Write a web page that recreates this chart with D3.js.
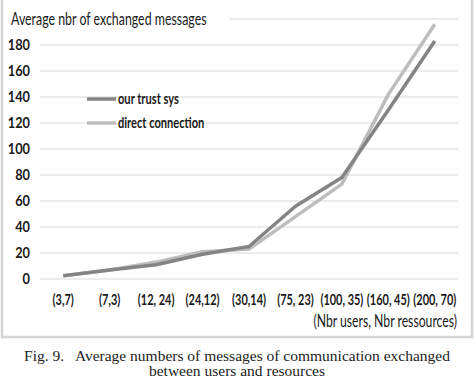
<!DOCTYPE html>
<html>
<head>
<meta charset="utf-8">
<script src="https://cdn.jsdelivr.net/npm/d3@7"></script>
<style>
  body { margin: 0; background: #fff; }
  svg { display: block; }
</style>
</head>
<body>
<svg id="chart" width="474" height="377"></svg>
<script>
// Data
const categories = ["(3,7)", "(7,3)", "(12, 24)", "(24,12)", "(30,14)", "(75, 23)", "(100, 35)", "(160, 45)", "(200, 70)"]
const trustSys = [2.5, 7, 11, 19, 25, 56, 78, 130, 183]
const directConn = [2.5, 7, 13, 21, 23, 48, 73, 142, 196]
const yTicks = [0, 20, 40, 60, 80, 100, 120, 140, 160, 180, 200]

const svg = d3.select("#chart")
const chartFont = "Lato, 'Liberation Sans Narrow', sans-serif"

// Squeeze text horizontally so Lato looks like the narrow original font
function Condense(selection, factor) {
    selection.each(function() {
        const el = d3.select(this)
        const x = +el.attr("x")
        const y = +el.attr("y")
        el.attr("x", 0).attr("y", 0)
            .attr("transform", `translate(${x},${y}) scale(${factor},1)`)
    })
}

// Frame around the plot
svg.append("rect")
    .attr("x", 2).attr("y", -2)
    .attr("width", 470).attr("height", 339)
    .attr("fill", "none")
    .attr("stroke", "#d4d4d4")
    .attr("stroke-width", 2.5)

const xScale = d3.scaleBand()
    .domain(categories)
    .range([40, 458])

const yScale = d3.scaleLinear()
    .domain([0, 200])
    .range([279, 19])

// Gridlines
svg.append("g")
    .selectAll("line")
    .data(yTicks)
    .join("line")
    .attr("x1", 40).attr("x2", 458)
    .attr("y1", d => yScale(d)).attr("y2", d => yScale(d))
    .attr("stroke", "#d9d9d9")
    .attr("stroke-width", 1.2)

// Y tick labels (200 hidden behind the title)
svg.append("g")
    .selectAll("text")
    .data(yTicks.filter(d => d < 200))
    .join("text")
    .attr("x", 30)
    .attr("y", d => yScale(d) + 5)
    .attr("text-anchor", "end")
    .style("font-family", chartFont)
    .style("font-weight", "bold")
    .style("font-size", "14.5px")
    .attr("fill", "#1a1a1a")
    .text(d => d)
    .call(Condense, 0.88)

// Axis title with white background
svg.append("rect")
    .attr("x", 6).attr("y", 6)
    .attr("width", 224).attr("height", 24)
    .attr("fill", "#fff")
svg.append("text")
    .attr("x", 11).attr("y", 25)
    .style("font-family", chartFont)
    .style("font-size", "16.5px")
    .attr("fill", "#1a1a1a")
    .text("Average nbr of exchanged messages")
    .call(Condense, 0.75)

// X category labels
svg.append("g")
    .selectAll("text")
    .data(categories)
    .join("text")
    .attr("x", d => xScale(d) + xScale.bandwidth() / 2)
    .attr("y", 305)
    .attr("text-anchor", "middle")
    .style("font-family", chartFont)
    .style("font-weight", "bold")
    .style("font-size", "15px")
    .attr("fill", "#1a1a1a")
    .text(d => d)
    .call(Condense, 0.73)

svg.append("text")
    .attr("x", 457).attr("y", 327)
    .attr("text-anchor", "end")
    .style("font-family", chartFont)
    .style("font-size", "16.5px")
    .attr("fill", "#1a1a1a")
    .text("(Nbr users, Nbr ressources)")
    .call(Condense, 0.74)

// Lines
const line = d3.line()
    .x((d, i) => xScale(categories[i]) + xScale.bandwidth() / 2)
    .y(d => yScale(d))

const series = [
    { name: "direct connection", values: directConn, color: "#bdbdbd" },
    { name: "our trust sys", values: trustSys, color: "#848484" }
]

svg.append("g")
    .selectAll("path")
    .data(series)
    .join("path")
    .attr("d", d => line(d.values))
    .attr("fill", "none")
    .attr("stroke", d => d.color)
    .attr("stroke-width", 3.5)
    .attr("stroke-linejoin", "round")

// Legend
const legendItems = [
    { name: "our trust sys", color: "#848484", y: 99 },
    { name: "direct connection", color: "#bdbdbd", y: 123 }
]
const legend = svg.append("g")
legend.selectAll("line")
    .data(legendItems)
    .join("line")
    .attr("x1", 87).attr("x2", 116)
    .attr("y1", d => d.y).attr("y2", d => d.y)
    .attr("stroke", d => d.color)
    .attr("stroke-width", 3.5)
legend.selectAll("text")
    .data(legendItems)
    .join("text")
    .attr("x", 118)
    .attr("y", d => d.y + 5)
    .style("font-family", chartFont)
    .style("font-weight", "bold")
    .style("font-size", "15px")
    .attr("fill", "#1a1a1a")
    .text(d => d.name)
    .call(Condense, 0.74)

// Caption
const caption = svg.append("g")
    .style("font-family", "'Liberation Serif', 'Times New Roman', serif")
    .style("font-size", "15.5px")
    .attr("fill", "#222")
caption.append("text")
    .attr("x", 237).attr("y", 361)
    .attr("text-anchor", "middle")
    .attr("xml:space", "preserve")
    .text("Fig. 9.   Average numbers of messages of communication exchanged")
caption.append("text")
    .attr("x", 237).attr("y", 376)
    .attr("text-anchor", "middle")
    .text("between users and resources")
</script>
</body>
</html>
